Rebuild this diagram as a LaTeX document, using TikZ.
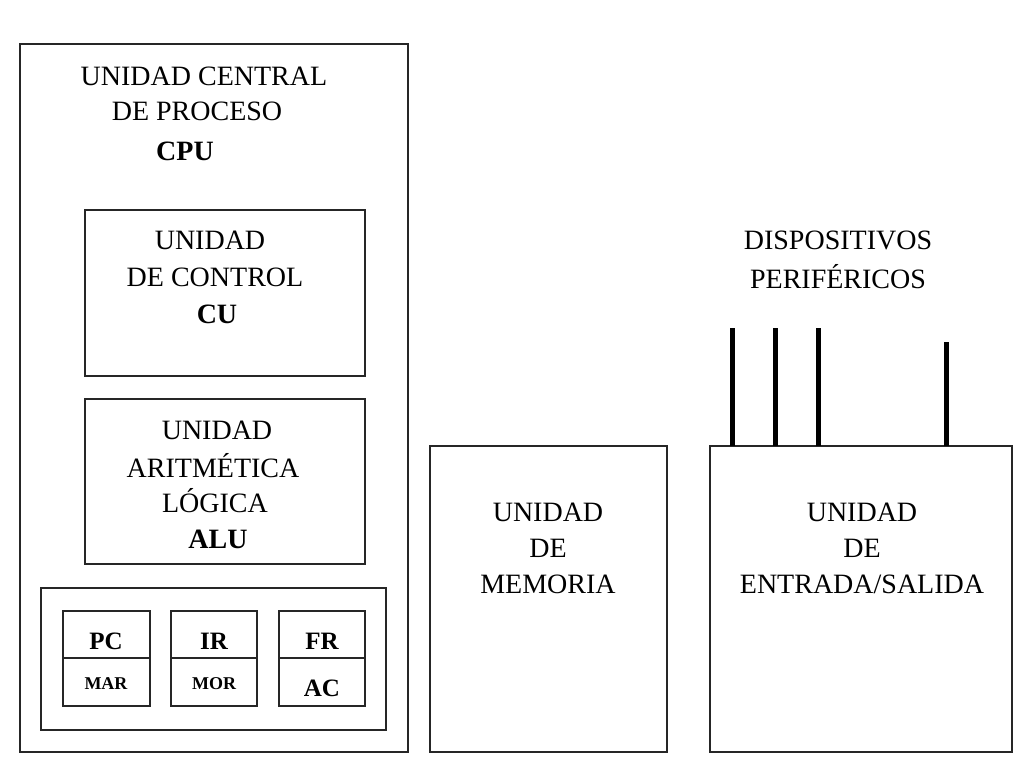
\documentclass[tikz,border=0pt]{standalone}
\usepackage{fontspec}
\setmainfont{Liberation Serif}
\begin{document}
\begin{tikzpicture}[x=1pt,y=-1pt,
  box/.style={draw=black!85,line width=1.6pt},
  t/.style={font=\fontsize{28}{28}\selectfont,inner sep=0pt,anchor=center},
  tb/.style={font=\fontsize{28}{28}\selectfont\bfseries,inner sep=0pt,anchor=center},
  rb/.style={font=\fontsize{25}{25}\selectfont\bfseries,inner sep=0pt,anchor=center},
  rs/.style={font=\fontsize{18}{18}\selectfont\bfseries,inner sep=0pt,anchor=center},
  bar/.style={line width=5pt}]
\useasboundingbox (0,0) rectangle (1025,772);
\draw[box] (20,44) rectangle (408,752);
\draw[box] (85,210) rectangle (365,376);
\draw[box] (85,399) rectangle (365,564);
\draw[box] (41,588) rectangle (386,730);
\foreach \a/\b in {63/150,171/257,279/365}{
  \draw[box] (\a,611) rectangle (\b,706);
  \draw[box] (\a,658) -- (\b,658);}
\draw[box] (430,446) rectangle (667,752);
\draw[box] (710,446) rectangle (1012,752);
\coordinate (b1) at (732,328); \coordinate (e1) at (732,446);
\coordinate (b2) at (775,328); \coordinate (e2) at (775,446);
\coordinate (b3) at (818,328); \coordinate (e3) at (818,446);
\coordinate (b4) at (946,342); \coordinate (e4) at (946,446);
\draw[bar] (b1)--(e1); \draw[bar] (b2)--(e2); \draw[bar] (b3)--(e3); \draw[bar] (b4)--(e4);
\node[t] (c1) at (204,76) {UNIDAD CENTRAL};
\node[t] (c2) at (197,111) {DE PROCESO};
\node[tb] (c3) at (185,151) {CPU};
\node[t] (u1) at (210,240) {UNIDAD};
\node[t] (u2) at (215,277) {DE CONTROL};
\node[tb] (u3) at (217,314) {CU};
\node[t] (a1) at (217,430) {UNIDAD};
\node[t] (a2) at (213,466) {ARITMÉTICA};
\node[t] (a3) at (215,501) {LÓGICA};
\node[tb] (a4) at (218,539) {ALU};
\node[rb] (pc) at (106,641) {PC};
\node[rs] (mar) at (106,684) {MAR};
\node[rb] (ir) at (214,641) {IR};
\node[rs] (mor) at (214,684) {MOR};
\node[rb] (fr) at (322,641) {FR};
\node[rb] (ac) at (322,688) {AC};
\node[t] (m1) at (548,512) {UNIDAD};
\node[t] (m2) at (548,548) {DE};
\node[t] (m3) at (548,584) {MEMORIA};
\node[t] (i1) at (862,512) {UNIDAD};
\node[t] (i2) at (862,548) {DE};
\node[t] (i3) at (862,584) {ENTRADA/SALIDA};
\node[t] (d1) at (838,240) {DISPOSITIVOS};
\node[t] (d2) at (838,277) {PERIFÉRICOS};
\end{tikzpicture}
\end{document}
